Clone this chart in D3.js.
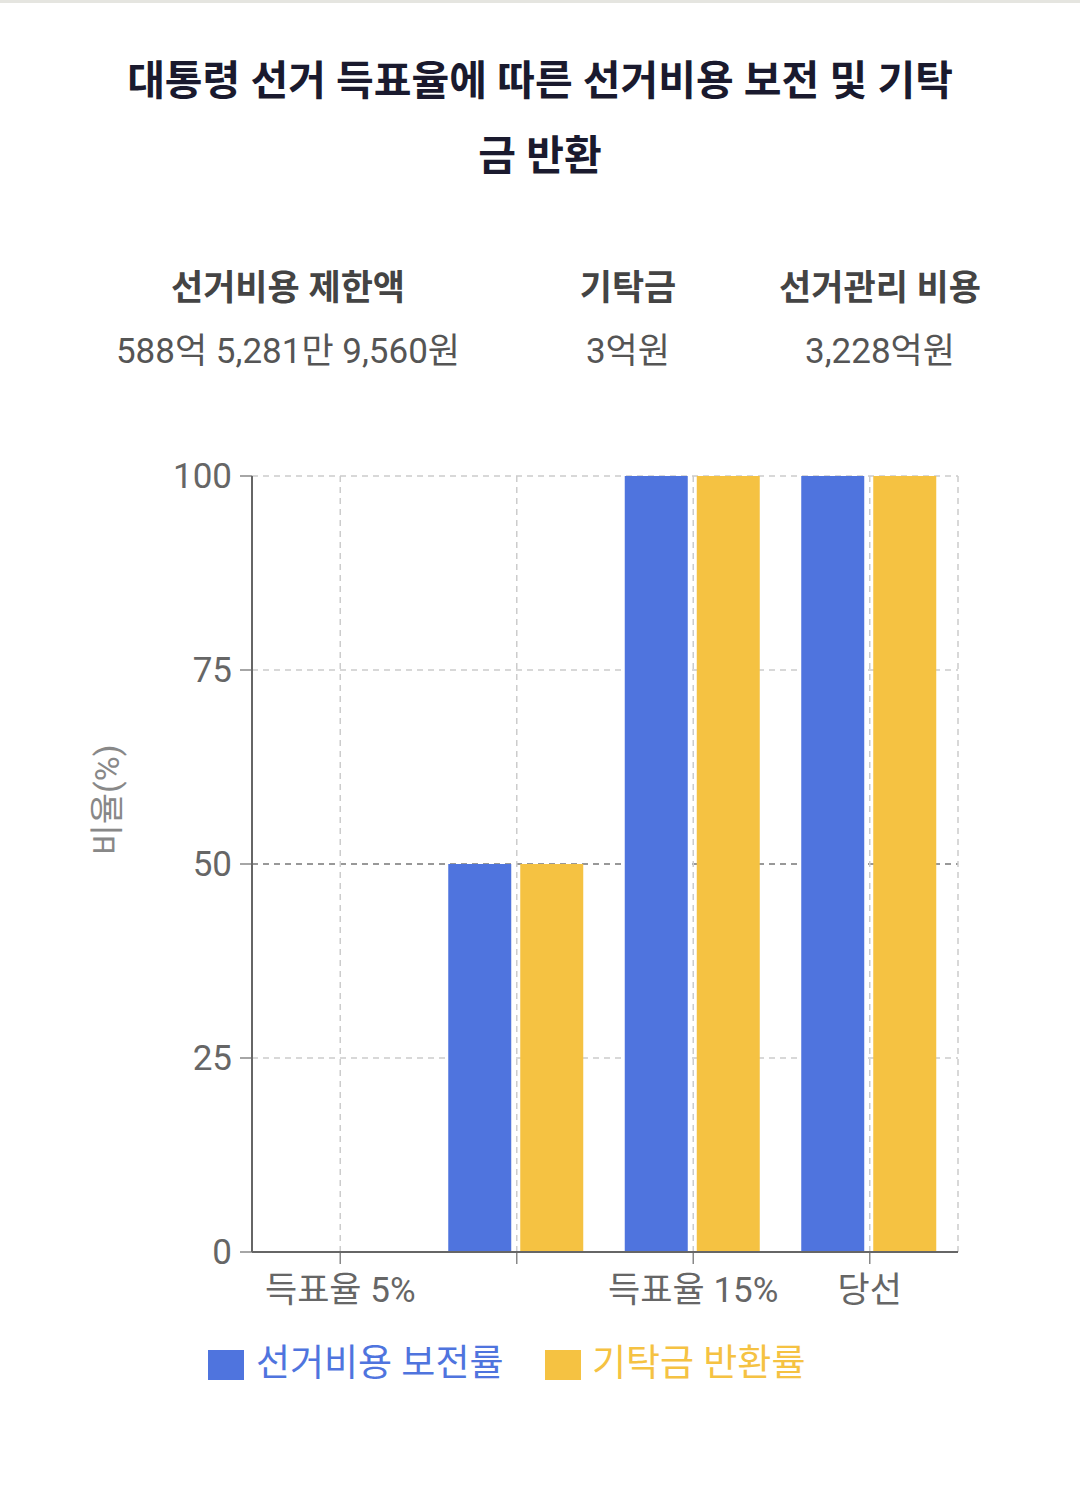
<!DOCTYPE html><html><head><meta charset="utf-8">
<script src="https://cdn.jsdelivr.net/npm/d3@7"></script>
<style>body{margin:0;background:#fff;font-family:Roboto,"Noto Sans CJK KR",sans-serif}</style></head><body>
<svg id="c" width="1080" height="1486"></svg>
<script>
const categories=["득표율 5%","득표율 10%","득표율 15%","당선"];
const shownLabels=["득표율 5%","","득표율 15%","당선"];
const reimburse=[0,50,100,100];
const deposit=[0,50,100,100];
const yTicks=[0,25,50,75,100];
const statHeads=["선거비용 제한액","기탁금","선거관리 비용"];
const statVals=["588억 5,281만 9,560원","3억원","3,228억원"];
const statX=[288,628,880];
const blue="#4f74de",yellow="#f5c242";
const svg=d3.select("#c");
const f='Roboto,"Noto Sans CJK KR",sans-serif';
svg.append("rect").attr("width",1080).attr("height",3).attr("fill","#e5e5e0");
[["대통령 선거 득표율에 따른 선거비용 보전 및 기탁",95],["금 반환",170]].forEach(([t,y])=>
svg.append("text").attr("x",540).attr("y",y).attr("text-anchor","middle").attr("font-size",41).attr("font-weight",700).attr("fill","#1a1a2e").attr("font-family",f).text(t));
statHeads.forEach((h,i)=>{
svg.append("text").attr("x",statX[i]).attr("y",300).attr("text-anchor","middle").attr("font-size",35).attr("font-weight",700).attr("fill","#444").attr("font-family",f).text(h);
svg.append("text").attr("x",statX[i]).attr("y",363).attr("text-anchor","middle").attr("font-size",35).attr("fill","#555").attr("font-family",f).text(statVals[i]);});
const L=252,R=958,T=476,B=1252;
const x=d3.scaleBand().domain(categories).range([L,R]);
const y=d3.scaleLinear().domain([0,100]).range([B,T]);
const g=svg.append("g");
yTicks.forEach(t=>{if(t>0)g.append("line").attr("x1",L).attr("x2",R).attr("y1",y(t)).attr("y2",y(t)).attr("stroke",t==50?"#777":"#ccc").attr("stroke-width",1.5).attr("stroke-dasharray","6,5");
g.append("line").attr("x1",L-12).attr("x2",L).attr("y1",y(t)).attr("y2",y(t)).attr("stroke","#888").attr("stroke-width",1.5);
g.append("text").attr("x",L-20).attr("y",y(t)+12).attr("text-anchor","end").attr("font-size",35).attr("fill","#666").attr("font-family",f).text(t);});
categories.forEach(c=>{const cx=x(c)+x.bandwidth()/2;
g.append("line").attr("x1",cx).attr("x2",cx).attr("y1",T).attr("y2",B).attr("stroke","#ccc").attr("stroke-width",1.5).attr("stroke-dasharray","6,5");
g.append("line").attr("x1",cx).attr("x2",cx).attr("y1",B).attr("y2",B+12).attr("stroke","#888").attr("stroke-width",1.5);});
g.append("line").attr("x1",R).attr("x2",R).attr("y1",T).attr("y2",B).attr("stroke","#ccc").attr("stroke-width",1.5).attr("stroke-dasharray","6,5");
const bw=63,gap=11;
categories.forEach((c,i)=>{const cx=x(c)+x.bandwidth()/2;
g.append("rect").attr("x",cx-gap/2-bw).attr("width",bw).attr("y",y(reimburse[i])).attr("height",B-y(reimburse[i])).attr("fill",blue);
g.append("rect").attr("x",cx+gap/2-2).attr("width",bw).attr("y",y(deposit[i])).attr("height",B-y(deposit[i])).attr("fill",yellow);
if(shownLabels[i])g.append("text").attr("x",cx).attr("y",B+50).attr("text-anchor","middle").attr("font-size",35).attr("fill","#666").attr("font-family",f).text(shownLabels[i]);});
g.append("line").attr("x1",L).attr("x2",L).attr("y1",T).attr("y2",B).attr("stroke","#666").attr("stroke-width",2);
g.append("line").attr("x1",L).attr("x2",R).attr("y1",B).attr("y2",B).attr("stroke","#666").attr("stroke-width",2);
svg.append("text").attr("transform","translate(110,800) rotate(-90)").attr("text-anchor","middle").attr("dominant-baseline","middle").attr("font-size",34).attr("fill","#888").attr("font-family",f).text("비율(%)");
[[208,256,blue,"선거비용 보전률"],[545,592,yellow,"기탁금 반환률"]].forEach(([rx,tx,col,t])=>{
svg.append("rect").attr("x",rx).attr("y",1350).attr("width",36).attr("height",30).attr("fill",col);
svg.append("text").attr("x",tx).attr("y",1376).attr("font-size",37).attr("fill",col).attr("font-family",f).text(t);});
</script></body></html>
